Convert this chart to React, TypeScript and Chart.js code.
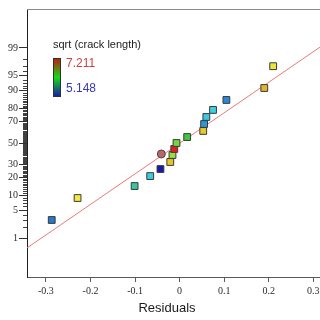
import React, { useEffect, useRef } from "react";
import { Chart, registerables } from "chart.js";

Chart.register(...registerables);

// Normal probability plot of residuals
const residuals = [-0.287, -0.229, -0.101, -0.066, -0.043, -0.021, -0.016, -0.041, -0.012, -0.007, 0.017, 0.053, 0.055, 0.06, 0.075, 0.105, 0.19, 0.21];
const probabilities = [2.97, 8.9, 14.6, 20.9, 26.2, 32.1, 38.4, 39.4, 44.2, 50.0, 55.8, 61.6, 67.9, 73.8, 79.1, 85.4, 91.1, 97.0];
const pointColors = [
  "#2a78c8", "#f2ea3c", "#34c89a", "#3ccce0", "#1a1aa8", "#e6c42a",
  "#96e040", "#b06a6a", "#e61e1e", "#6ed83c", "#3cc83c", "#e8c82a",
  "#2898d8", "#38c8e0", "#3cd0e4", "#2a88d8", "#e4b42a", "#f0e43c",
];
const pointShapes = ["rect", "rect", "rect", "rect", "rect", "rect", "rect", "circle", "rect", "rect", "rect", "rect", "rect", "rect", "rect", "rect", "rect", "rect"];

const fitResiduals = [-0.3425, 0.342];
const fitProbabilities = [0.51, 99.46];

const xTickValues = [-0.3, -0.2, -0.1, 0, 0.1, 0.2, 0.3];
const yMajorTicks = [1, 5, 10, 20, 30, 50, 70, 80, 90, 95, 99];
const yMinorTicks = Array.from({ length: 99 }, (_, i) => i + 1).filter((p) => !yMajorTicks.includes(p));

const xTitle = "Residuals";
const legendTitle = "sqrt (crack length)";
const legendMax = "7.211";
const legendMin = "5.148";

// inverse standard normal CDF (percent -> z)
function probit(pct: number): number {
  const p = pct / 100;
  const a = [-3.969683028665376e1, 2.209460984245205e2, -2.759285104469687e2, 1.38357751867269e2, -3.066479806614716e1, 2.506628277459239];
  const b = [-5.447609879822406e1, 1.615858368580409e2, -1.556989798598866e2, 6.680131188771972e1, -1.328068155288572e1];
  const c = [-7.784894002430293e-3, -3.223964580411365e-1, -2.400758277161838, -2.549732539343734, 4.374664141464968, 2.938163982698783];
  const d = [7.784695709124946e-3, 3.224671290700398e-1, 2.445134137142996, 3.754408661907416];
  const plow = 0.02425;
  const phigh = 1 - plow;
  if (p < plow) {
    const q = Math.sqrt(-2 * Math.log(p));
    return (((((c[0] * q + c[1]) * q + c[2]) * q + c[3]) * q + c[4]) * q + c[5]) / ((((d[0] * q + d[1]) * q + d[2]) * q + d[3]) * q + 1);
  }
  if (p <= phigh) {
    const q = p - 0.5;
    const r = q * q;
    return ((((((a[0] * r + a[1]) * r + a[2]) * r + a[3]) * r + a[4]) * r + a[5]) * q) / (((((b[0] * r + b[1]) * r + b[2]) * r + b[3]) * r + b[4]) * r + 1);
  }
  const q = Math.sqrt(-2 * Math.log(1 - p));
  return -(((((c[0] * q + c[1]) * q + c[2]) * q + c[3]) * q + c[4]) * q + c[5]) / ((((d[0] * q + d[1]) * q + d[2]) * q + d[3]) * q + 1);
}

const decorPlugin = {
  id: "decor",
  afterDraw(chart: any) {
    const ctx = chart.ctx;
    const area = chart.chartArea;
    const y = chart.scales.y;
    ctx.save();
    // top border
    ctx.strokeStyle = "#8a8a8a";
    ctx.lineWidth = 1;
    ctx.beginPath();
    ctx.moveTo(area.left, area.top + 0.5);
    ctx.lineTo(area.right, area.top + 0.5);
    ctx.stroke();
    // minor probability ticks
    ctx.strokeStyle = "#404040";
    ctx.beginPath();
    for (const p of yMinorTicks) {
      const py = Math.round(y.getPixelForValue(probit(p))) + 0.5;
      ctx.moveTo(area.left - 4, py);
      ctx.lineTo(area.left, py);
    }
    ctx.stroke();
    // x axis title
    ctx.fillStyle = "#1a1a1a";
    ctx.font = "13px 'Liberation Sans', Arial, sans-serif";
    ctx.textAlign = "center";
    ctx.textBaseline = "middle";
    ctx.fillText(xTitle, 167, 308);
    // legend
    ctx.textAlign = "left";
    ctx.font = "11px 'Liberation Sans', Arial, sans-serif";
    ctx.fillStyle = "#1a1a1a";
    ctx.fillText(legendTitle, 53, 45);
    const bx = 53, bt = 58, bw = 8, bh = 39;
    const g = ctx.createLinearGradient(0, bt, 0, bt + bh);
    g.addColorStop(0, "#c81414");
    g.addColorStop(0.5, "#14dc14");
    g.addColorStop(1, "#1414b4");
    ctx.fillStyle = g;
    ctx.fillRect(bx, bt, bw, bh);
    ctx.strokeStyle = "#303030";
    ctx.strokeRect(bx + 0.5, bt + 0.5, bw - 1, bh - 1);
    ctx.font = "12px 'Liberation Sans', Arial, sans-serif";
    ctx.fillStyle = "#c84444";
    ctx.fillText(legendMax, 66, 64);
    ctx.fillStyle = "#3838b8";
    ctx.fillText(legendMin, 66, 89);
    ctx.restore();
  },
};

export default function App() {
  const ref = useRef<HTMLCanvasElement | null>(null);
  useEffect(() => {
    if (!ref.current) return;
    const points = residuals.map((r, i) => ({ x: r, y: probit(probabilities[i]) }));
    const fit = fitResiduals.map((r, i) => ({ x: r, y: probit(fitProbabilities[i]) }));
    const chart = new Chart(ref.current, {
      type: "scatter",
      data: {
        datasets: [
          {
            data: points,
            order: 1,
            backgroundColor: pointColors,
            borderColor: pointShapes.map((s) => (s === "circle" ? "#6a3a3a" : "#3a3a3a")),
            pointBackgroundColor: pointColors,
            pointStyle: pointShapes as any,
            pointRadius: pointShapes.map((s) => (s === "circle" ? 4 : 4.8)),
            pointBorderWidth: 1,
          },
          {
            data: fit,
            order: 2,
            showLine: true,
            borderColor: "#e87a7a",
            borderWidth: 1,
            pointRadius: 0,
          },
        ],
      },
      options: {
        responsive: false,
        animation: false,
        devicePixelRatio: 1,
        layout: { padding: { top: 9, right: 8, left: 0, bottom: 0 } },
        plugins: { legend: { display: false }, tooltip: { enabled: false } },
        scales: {
          x: {
            type: "linear",
            min: -0.3425,
            max: 0.342,
            afterBuildTicks: (s: any) => {
              s.ticks = xTickValues.map((v) => ({ value: v }));
            },
            afterFit: (s: any) => {
              s.height = 43;
            },
            border: { color: "#5a5a5a", width: 1 },
            grid: { drawOnChartArea: false, drawTicks: true, tickLength: 5, tickColor: "#5a5a5a" },
            ticks: {
              autoSkip: false,
              maxRotation: 0,
              padding: 3,
              color: "#2a2a2a",
              font: { family: "'Liberation Serif', 'Times New Roman', serif", size: 10 },
              callback: (v: any) => String(Math.round(Number(v) * 10) / 10),
            },
          },
          y: {
            type: "linear",
            min: -3.281,
            max: 3.281,
            afterBuildTicks: (s: any) => {
              s.ticks = yMajorTicks.map((p) => ({ value: probit(p) }));
            },
            afterFit: (s: any) => {
              s.width = 27;
            },
            border: { color: "#202020", width: 1 },
            grid: { drawOnChartArea: false, drawTicks: true, tickLength: 8, tickColor: "#303030" },
            ticks: {
              autoSkip: false,
              padding: 1,
              color: "#2a2a2a",
              font: { family: "'Liberation Serif', 'Times New Roman', serif", size: 10 },
              callback: (_v: any, i: number) => String(yMajorTicks[i]),
            },
          },
        },
      },
      plugins: [decorPlugin],
    });
    return () => chart.destroy();
  }, []);
  return (
    <div style={{ position: "fixed", left: 0, top: 0, width: 340, height: 320, background: "#fff" }}>
      <canvas ref={ref} width={340} height={320} style={{ width: 340, height: 320, display: "block" }} />
    </div>
  );
}
